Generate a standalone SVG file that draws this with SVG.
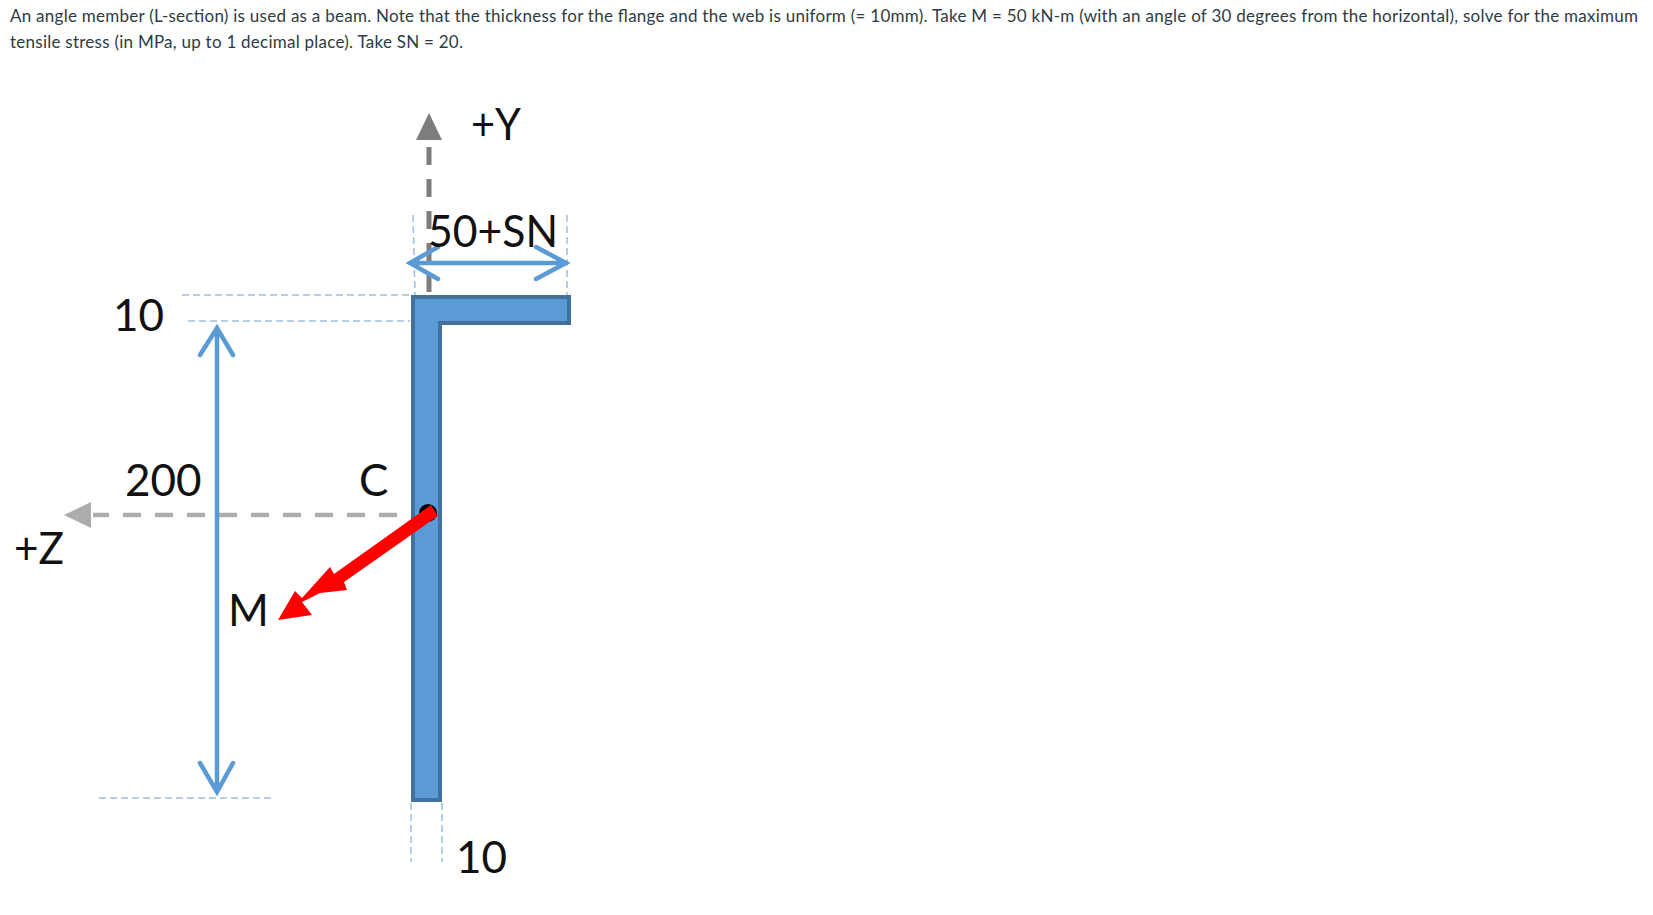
<svg xmlns="http://www.w3.org/2000/svg" width="1653" height="915" viewBox="0 0 1653 915">
<style>
.q{font-family:Lato,"Liberation Sans",sans-serif;font-size:17px;fill:#2d3b45}
.l{font-family:Lato,"Liberation Sans",sans-serif;font-size:44px;fill:#111}
.ext{fill:none;stroke:#9dbde0;stroke-width:1.5;stroke-dasharray:7 4}
.dim{fill:none;stroke:#5b9bd5;stroke-width:4.5;stroke-linecap:round}
.gy{fill:none;stroke:#7f7c7c;stroke-width:5;stroke-dasharray:18 14}
.gz{fill:none;stroke:#aeabab;stroke-width:4.5;stroke-dasharray:18 14}
</style>
<rect width="1653" height="915" fill="#fff"/>
<g id="question">
<text class="q" x="10" y="22" textLength="1628" lengthAdjust="spacing">An angle member (L-section) is used as a beam. Note that the thickness for the flange and the web is uniform (= 10mm). Take M = 50 kN-m (with an angle of 30 degrees from the horizontal), solve for the maximum</text>
<text class="q" x="10" y="48" textLength="453" lengthAdjust="spacing">tensile stress (in MPa, up to 1 decimal place). Take SN = 20.</text>
</g>
<g id="connectors">
<path class="gy" d="M429 147V292"/>
<path d="M429 113L416 140H442Z" fill="#7f7c7c"/>
<path class="gz" d="M397 515H93"/>
<path d="M64 515L91 502V528Z" fill="#aeabab"/>
<path class="ext" d="M413 215L415 295M567 215V295M182 295H412M188 321H410M99 798H272M411 803V862M442 803V862"/>
<path class="dim" d="M410 263H566M438 247L410 263L438 279M536 247L566 263L536 279"/>
<path class="dim" d="M217 328V792M200 355L217 328L233 355M200 763L217 792L233 763"/>
</g>
<g id="section">
<path d="M413 297H569V323H440V800H413Z" fill="#5b9bd5" stroke="#41719c" stroke-width="4"/>
</g>
<g id="moment">
<circle cx="428" cy="513" r="9" fill="#000"/>
<path d="M278 620L295 591L302 598L330 567L334 574L431 505L438 516L344 582L347 590L320 593L302 602L312 615Z" fill="#f00"/>
</g>
<g id="labels">
<text class="l" x="471" y="140" textLength="50" lengthAdjust="spacingAndGlyphs">+Y</text>
<text class="l" x="428" y="247" textLength="130" lengthAdjust="spacingAndGlyphs">50+SN</text>
<text class="l" x="113" y="331">10</text>
<text class="l" x="125" y="496">200</text>
<text class="l" x="359" y="496">C</text>
<text class="l" x="14" y="564" textLength="50" lengthAdjust="spacingAndGlyphs">+Z</text>
<text class="l" x="228" y="626">M</text>
<text class="l" x="456" y="873">10</text>
</g>
</svg>
